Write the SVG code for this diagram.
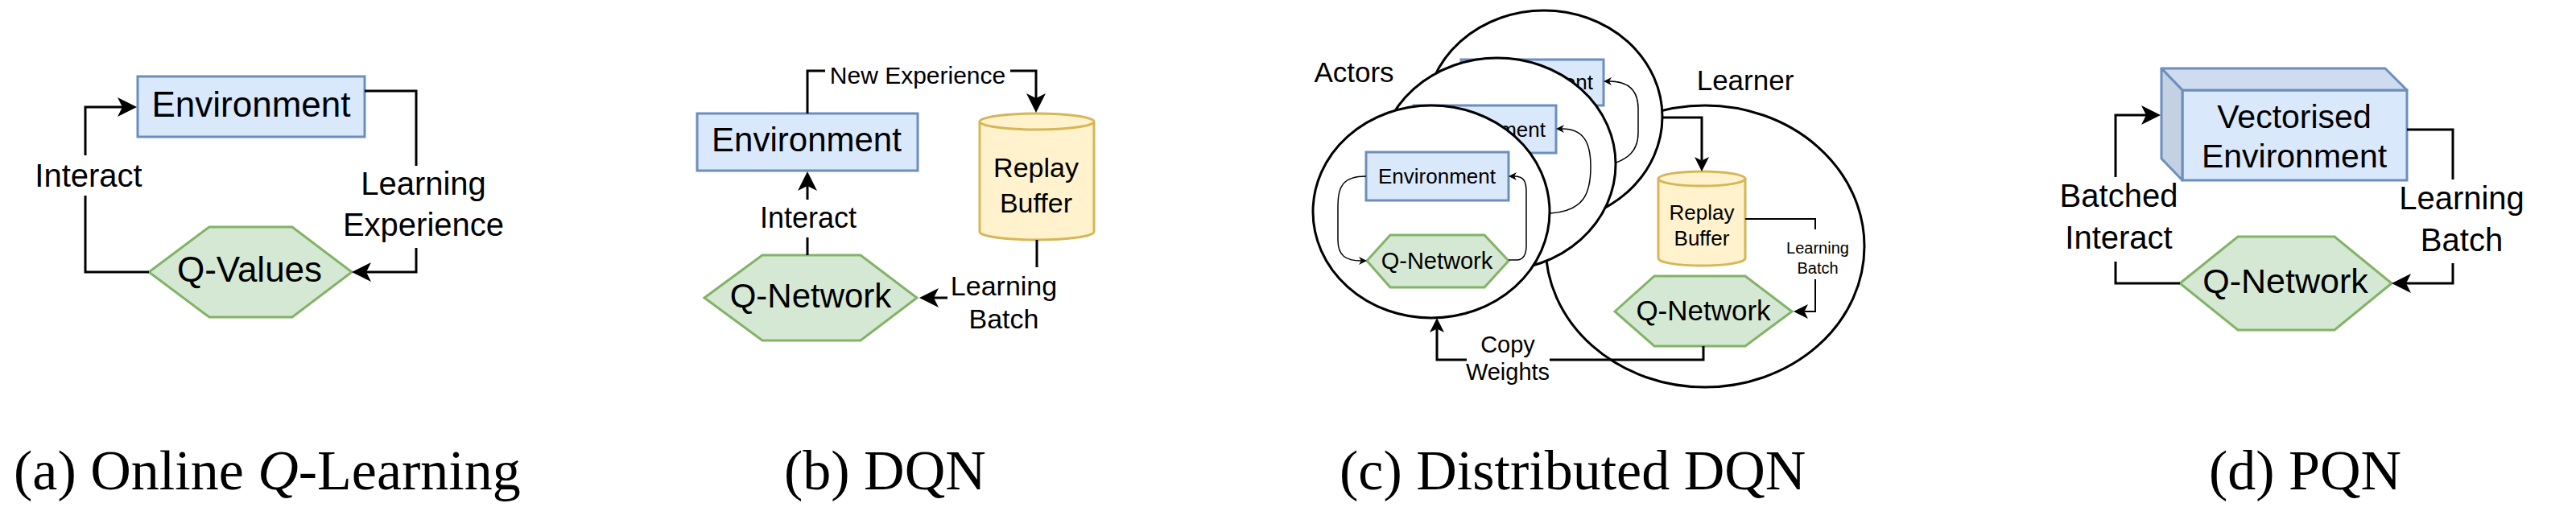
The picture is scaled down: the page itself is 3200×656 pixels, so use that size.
<svg xmlns="http://www.w3.org/2000/svg" width="3200" height="656" viewBox="0 0 3200 656">
<style>
.env{fill:#dae8fc;stroke:#6c8ebf;stroke-width:3}
.top{fill:#cfdcf0;stroke:#6c8ebf;stroke-width:3;stroke-linejoin:round}
.side{fill:#c4d1e3;stroke:#6c8ebf;stroke-width:3;stroke-linejoin:round}
.hex{fill:#d5e8d4;stroke:#82b366;stroke-width:3}
.cyl{fill:#fff2cc;stroke:#d6b656;stroke-width:3}
.edge{fill:none;stroke:#000;stroke-width:3}
.mid{fill:none;stroke:#000;stroke-width:2}
.thin{fill:none;stroke:#000;stroke-width:1.5}
.circ{fill:#fff;stroke:#000;stroke-width:3}
text{font-family:"Liberation Sans",Arial,sans-serif;text-anchor:middle;fill:#000}
.cap{font-family:"Liberation Serif","Times New Roman",serif;font-size:70px;text-anchor:start}
</style>
<defs>
<marker id="arA" markerUnits="userSpaceOnUse" markerWidth="24" markerHeight="24" viewBox="0 0 24 24" refX="6" refY="12" orient="auto"><path d="M0,0 L24,12 L0,24 L6,12 Z" fill="#000"/></marker>
<marker id="arC" markerUnits="userSpaceOnUse" markerWidth="18" markerHeight="18" viewBox="0 0 18 18" refX="4.5" refY="9" orient="auto"><path d="M0,0 L18,9 L0,18 L4.5,9 Z" fill="#000"/></marker>
<marker id="arS" markerUnits="userSpaceOnUse" markerWidth="10" markerHeight="10" viewBox="0 0 10 10" refX="3" refY="5" orient="auto"><path d="M0,0 L10,5 L0,10 L3,5 Z" fill="#000"/></marker>
</defs>
<rect width="3200" height="656" fill="#fff"/>

<!-- Panel (a) -->
<g id="panel-a">
  <g id="a-env"><rect class="env" x="171" y="95" width="282" height="75"/><text x="312" y="145" font-size="44">Environment</text></g>
  <g id="a-qvalues"><polygon class="hex" points="185,338 260,282 363,282 437,338 363,394 260,394"/><text x="310" y="350" font-size="44">Q-Values</text></g>
  <g id="a-connectors">
    <path class="edge" d="M185,338 H106 V243 M106,193 V133 H152" marker-end="url(#arA)"/>
    <path class="edge" d="M453,113 H517 V206 M517,308 V338 H455" marker-end="url(#arA)"/>
    <text x="110" y="232" font-size="40">Interact</text>
    <text x="526" y="242" font-size="40">Learning</text>
    <text x="526" y="293" font-size="40">Experience</text>
  </g>
  <text class="cap" x="17" y="608">(a) Online <tspan font-style="italic">Q</tspan>-Learning</text>
</g>

<!-- Panel (b) -->
<g id="panel-b">
  <g id="b-env"><rect class="env" x="866" y="141" width="274" height="71"/><text x="1002" y="188" font-size="42">Environment</text></g>
  <g id="b-buffer">
    <path class="cyl" d="M1217,151 A71,10 0 0 1 1359,151 V288 A71,10 0 0 1 1217,288 Z"/>
    <path class="cyl" d="M1217,151 A71,10 0 0 0 1359,151" fill="none"/>
    <text x="1287" y="220" font-size="34">Replay</text>
    <text x="1287" y="264" font-size="34">Buffer</text>
  </g>
  <g id="b-qnet"><polygon class="hex" points="875,370 947,317 1069,317 1139,370 1069,423 947,423"/><text x="1007" y="382" font-size="42">Q-Network</text></g>
  <g id="b-connectors">
    <path class="edge" d="M1003,141 V88 H1025 M1255,88 H1287 V122" marker-end="url(#arA)"/>
    <path class="edge" d="M1003,317 V295 M1003,248 V231" marker-end="url(#arA)"/>
    <path class="edge" d="M1288,298 V332 M1177,370 H1160" marker-end="url(#arA)"/>
    <text x="1140" y="104" font-size="30">New Experience</text>
    <text x="1004" y="283" font-size="36">Interact</text>
    <text x="1247" y="367" font-size="34">Learning</text>
    <text x="1247" y="408" font-size="34">Batch</text>
  </g>
  <text class="cap" x="974" y="608">(b) DQN</text>
</g>

<!-- Panel (c) -->
<g id="panel-c">
  <g id="c-learner">
    <ellipse class="circ" cx="2118" cy="306" rx="198" ry="175"/>
  </g>
  <g id="c-actor-3">
    <ellipse class="circ" cx="1918" cy="145" rx="147" ry="132"/>
    <rect class="env" x="1815" y="74" width="177" height="57"/>
    <text x="1906" y="111" font-size="26">Environment</text>
    <polygon class="hex" points="1816,206 1845,174 1962,174 1992,206 1962,239 1845,239"/>
    <g class="actor-connectors">
      <path class="thin" d="M1815,101 C1786,101 1780,114 1780,137 L1780,180 C1780,200 1790,206 1809,206" marker-end="url(#arS)"/>
      <path class="thin" d="M1992,206 C2025,200 2035,185 2035,165 L2035,135 C2035,112 2022,101 1999,101" marker-end="url(#arS)"/>
    </g>
  </g>
  <g id="c-actor-2">
    <ellipse class="circ" cx="1860" cy="204" rx="147" ry="132"/>
    <rect class="env" x="1756" y="131" width="177" height="59"/>
    <text x="1847" y="170" font-size="26">Environment</text>
    <polygon class="hex" points="1757,265 1786,233 1898,233 1922,265 1898,298 1786,298"/>
    <g class="actor-connectors">
      <path class="thin" d="M1756,160 C1727,160 1721,173 1721,196 L1721,239 C1721,259 1731,265 1750,265" marker-end="url(#arS)"/>
      <path class="thin" d="M1926,265 C1968,262 1976,240 1976,207 C1976,178 1968,160 1940,160" marker-end="url(#arS)"/>
    </g>
  </g>
  <g id="c-actor-1">
    <ellipse class="circ" cx="1778" cy="263" rx="147" ry="132"/>
    <rect class="env" x="1697" y="189" width="177" height="60"/>
    <text x="1785" y="228" font-size="26">Environment</text>
    <polygon class="hex" points="1698,324 1727,292 1844,292 1874,324 1844,357 1727,357"/>
    <text x="1785" y="334" font-size="29">Q-Network</text>
    <g class="actor-connectors">
      <path class="thin" d="M1697,219 C1668,219 1662,232 1662,255 L1662,298 C1662,318 1672,324 1691,324" marker-end="url(#arS)"/>
      <path class="thin" d="M1874,323 L1884,323 C1893,323 1896,316 1896,305 L1896,238 C1896,224 1892,219 1881,219" marker-end="url(#arS)"/>
    </g>
  </g>
  <g id="c-buffer">
    <path class="cyl" d="M2060,222 A54,9 0 0 1 2168,222 V321 A54,9 0 0 1 2060,321 Z"/>
    <path class="cyl" d="M2060,222 A54,9 0 0 0 2168,222" fill="none"/>
    <text x="2114" y="273" font-size="26">Replay</text>
    <text x="2114" y="305" font-size="26">Buffer</text>
  </g>
  <g id="c-qnet"><polygon class="hex" points="2006,387 2055,343 2168,343 2226,387 2168,430 2055,430"/><text x="2116" y="398" font-size="35">Q-Network</text></g>
  <g id="c-connectors">
    <path class="edge" d="M2065,146 H2114 V199.5" marker-end="url(#arC)"/>
    <path class="mid" d="M2168,272 H2255 V285 M2255,347 V387 H2241.5" marker-end="url(#arC)"/>
    <path class="edge" d="M2116,430 V447 H1925 M1822,447 H1785 V408.5" marker-end="url(#arC)"/>
    <text x="2258" y="315" font-size="20">Learning</text>
    <text x="2258" y="340" font-size="20">Batch</text>
    <text x="1873" y="438" font-size="29">Copy</text>
    <text x="1873" y="472" font-size="29">Weights</text>
  </g>
  <text x="1682" y="102" font-size="35">Actors</text>
  <text x="2168" y="112" font-size="35">Learner</text>
  <text class="cap" x="1664" y="608">(c) Distributed DQN</text>
</g>

<!-- Panel (d) -->
<g id="panel-d">
  <g id="d-env">
    <rect class="env" x="2711" y="112" width="279" height="112"/>
    <polygon class="top" points="2685,85 2963,85 2990,112 2711,112"/>
    <polygon class="side" points="2685,85 2711,112 2711,224 2685,197"/>
    <text x="2850" y="159" font-size="41">Vectorised</text>
    <text x="2850" y="208" font-size="41">Environment</text>
  </g>
  <g id="d-qnet"><polygon class="hex" points="2708,352 2780,294 2900,294 2971,352 2900,410 2780,410"/><text x="2839" y="364" font-size="43">Q-Network</text></g>
  <g id="d-connectors">
    <path class="edge" d="M2708,352 H2628 V325 M2628,220 V143 H2666" marker-end="url(#arA)"/>
    <path class="edge" d="M2990,161 H3047 V223 M3047,327 V352 H2989" marker-end="url(#arA)"/>
    <text x="2632" y="257" font-size="40">Batched</text>
    <text x="2632" y="309" font-size="40">Interact</text>
    <text x="3058" y="260" font-size="40">Learning</text>
    <text x="3058" y="312" font-size="40">Batch</text>
  </g>
  <text class="cap" x="2744" y="608">(d) PQN</text>
</g>
</svg>
